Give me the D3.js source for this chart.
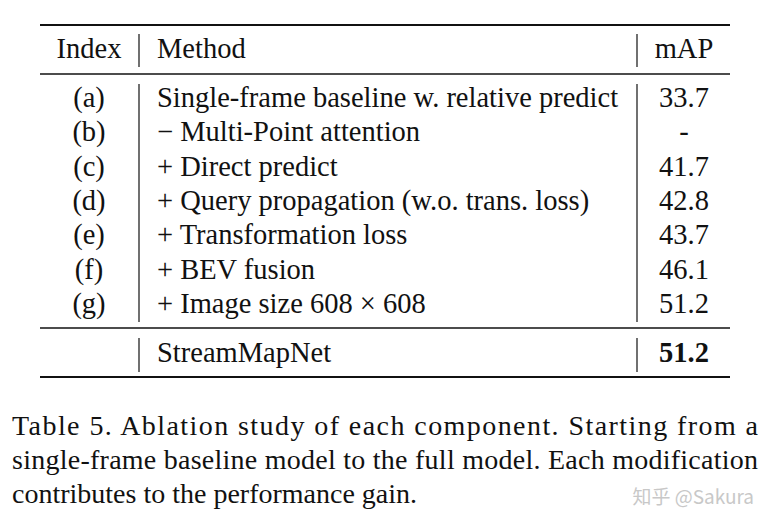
<!DOCTYPE html>
<html><head><meta charset="utf-8">
<script src="https://cdn.jsdelivr.net/npm/d3@7"></script>
<style>body{margin:0;background:#fff}</style>
</head><body>
<script>
const indices = ["(a)", "(b)", "(c)", "(d)", "(e)", "(f)", "(g)"];
const methods = ["Single-frame baseline w. relative predict", "\u2212 Multi-Point attention", "+ Direct predict",
  "+ Query propagation (w.o. trans. loss)", "+ Transformation loss", "+ BEV fusion", "+ Image size 608 \u00d7 608"];
const maps = ["33.7", "-", "41.7", "42.8", "43.7", "46.1", "51.2"];
const finalRow = {method: "StreamMapNet", map: "51.2"};
const caption = ["Table 5.  Ablation study of each component.  Starting from a",
  "single-frame baseline model to the full model. Each modification",
  "contributes to the performance gain."];

const svg = d3.select("body").append("svg").attr("width", 772).attr("height", 531)
  .style("font-family", "'Liberation Serif', serif").style("font-size", "28.5px").attr("fill", "#111");

// row baselines
const y = d3.scalePoint().domain(d3.range(indices.length)).range([107, 313]);

const hline = (yy, w) => svg.append("line").attr("x1", 40).attr("x2", 730).attr("y1", yy).attr("y2", yy)
  .attr("stroke", "#111").attr("stroke-width", w);
hline(25, 2); hline(74, 1.3); hline(328, 1.3); hline(377, 2);

const vline = (x, y1, y2) => svg.append("line").attr("x1", x).attr("x2", x).attr("y1", y1).attr("y2", y2)
  .attr("stroke", "#111").attr("stroke-width", 1.2);
[139, 637].forEach(x => { vline(x, 34, 67); vline(x, 84, 322); vline(x, 338, 372); });

svg.append("text").attr("x", 89).attr("y", 58).attr("text-anchor", "middle").text("Index");
svg.append("text").attr("x", 157).attr("y", 58).text("Method");
svg.append("text").attr("x", 684).attr("y", 58).attr("text-anchor", "middle").text("mAP");

indices.forEach((d, i) => {
  svg.append("text").attr("x", 89).attr("y", y(i)).attr("text-anchor", "middle").text(d);
  svg.append("text").attr("x", 157).attr("y", y(i)).text(methods[i]);
  svg.append("text").attr("x", 684).attr("y", y(i)).attr("text-anchor", "middle").text(maps[i]);
});

svg.append("text").attr("x", 157).attr("y", 362).text(finalRow.method);
svg.append("text").attr("x", 684).attr("y", 362).attr("text-anchor", "middle")
  .attr("font-weight", "bold").text(finalRow.map);

caption.forEach((c, i) => {
  const t = svg.append("text").attr("x", 12).attr("y", 435 + i * 34).style("font-size", "28px").text(c);
  if (i < 2) t.attr("textLength", 746).attr("lengthAdjust", "spacing");
});

svg.append("text").attr("x", 754).attr("y", 504).attr("text-anchor", "end")
  .style("font-family", "'Noto Sans CJK SC', sans-serif").style("font-size", "19px")
  .attr("fill", "#c8c8c8").text("知乎 @Sakura");
</script>
</body></html>
